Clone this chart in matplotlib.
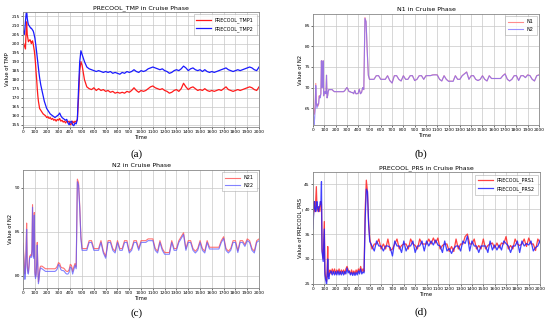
import matplotlib
matplotlib.use("Agg")
import matplotlib.pyplot as plt

# ---------------- time grid ----------------
time_early = list(range(0, 150, 5))
time_mid = list(range(150, 500, 10))
time_cruise = list(range(500, 2001, 20))
time = time_early + time_mid + time_cruise

# ---------------- (a) PRECOOL_TMP ----------------
tmp1_early = [200, 200, 199, 198, 197, 206, 212, 205, 203, 201,
              201.5, 202, 202, 201, 200, 201, 201.5, 200, 198, 196,
              193, 189, 184, 180, 175, 171, 168, 166, 164, 163.5]
tmp1_mid = [163, 162, 161, 160.5, 160, 159, 159.5, 158.5, 159, 158,
            158.5, 157.5, 158, 157, 158, 157.5, 158.5, 157, 157.5, 156.5,
            157, 156, 157, 156.5, 157, 155, 155.5, 157, 156, 157,
            156.5, 158, 170, 185, 190]
tmp1_cruise = [188, 180, 176, 175, 174.5, 175.5, 174, 175, 174, 174.5,
               173.5, 174, 173, 173.5, 172.5, 173, 172.5, 173, 172.5, 173.5,
               173, 174, 175.5, 174, 173, 174, 173.5, 174, 175, 176,
               176.5, 175.5, 175, 174.5, 175, 174, 173.5, 172.5, 173, 174,
               174.5, 173.5, 175, 178, 176, 174.5, 175.5, 176, 175, 174,
               174.5, 174, 175, 174, 173.5, 174, 173.5, 174, 174.5, 174,
               175, 176, 174.5, 174, 173.5, 174, 174.5, 174, 174.5, 175,
               175.5, 176, 175.5, 174.5, 174, 176]
tmp2_early = [207, 206, 205, 208, 212, 216, 218.5, 214, 212, 210.5,
              210, 209.5, 209, 208.5, 208.5, 208, 207.5, 207, 206, 204.5,
              203, 200.5, 198, 195, 192, 189, 186, 183.5, 181, 179]
tmp2_mid = [177, 174, 171, 168, 166, 164, 163, 162, 161, 160.5,
            160, 159.5, 159, 159.5, 160, 160.5, 161.5, 160, 159, 158.5,
            158, 157.5, 158, 156, 155, 156.5, 157, 155, 154.5, 156,
            155.5, 158, 175, 190, 196]
tmp2_cruise = [194, 190, 187, 186, 185.5, 185, 184.5, 185, 184.5, 184,
               184.5, 184, 184.5, 183.5, 184, 183.5, 183, 184, 183.5, 184.5,
               184, 184.5, 185.5, 184.5, 184, 185, 184.5, 185, 186, 186.5,
               187, 186.5, 186, 185.5, 186, 185, 184.5, 183.5, 184, 185,
               185.5, 185, 186, 187.5, 186.5, 185, 186, 186.5, 185.5, 185,
               185.5, 184.5, 185.5, 184.5, 184, 184.5, 184, 184.5, 185, 185.5,
               186, 186.5, 185.5, 185, 184.5, 185, 185.5, 185, 185.5, 186,
               186.5, 187, 186.5, 185.5, 185, 187]

# ---------------- (b) N1 ----------------
n1_early = [67, 65, 63.5, 64, 66, 71, 66, 65.5, 66, 65.5,
            66, 68, 67.5, 68, 68.5, 76.5, 70, 70.5, 76.5, 68,
            68.5, 69, 69, 68.5, 73, 67.5, 68, 69, 69.5, 69.5]
n1_mid = [69.5, 69.5, 69.5, 69.2, 69, 69, 69, 69, 69, 69,
          69, 69, 69, 69.2, 69.6, 70, 69.6, 69, 69, 68.8,
          68.8, 68.5, 69.3, 68.5, 68.5, 68.6, 69.6, 68.5, 68.8, 70,
          69.5, 87, 86, 79, 73]
n1_cruise = [72, 72, 72, 72.9, 72.9, 72, 72, 72, 72.9, 71.7,
             71.1, 72.9, 72.9, 72, 71.6, 72.9, 72, 72, 72.9, 72.9,
             71.7, 72, 72.9, 72.9, 72, 72.9, 72.9, 72.9, 73.1, 73.1,
             73.1, 72, 71.6, 72.9, 72, 71.55, 71.55, 71.55, 72.9, 72,
             72, 72.9, 73.35, 73.8, 72, 72.9, 72.9, 72, 71.7, 72,
             72.9, 72, 71.6, 72.9, 72.2, 72.2, 72.2, 72.2, 72.2, 72.9,
             73.35, 72, 71.6, 72, 72.9, 72.9, 71.75, 72.9, 72.9, 72.45,
             73.1, 72.9, 72, 71.6, 72.9, 73.1]
n2b_early = [66, 63, 61, 62.5, 65, 70.5, 66.5, 65, 65.5, 66,
             66, 67.5, 68, 67.5, 68.5, 76.5, 70, 70.5, 76.5, 68,
             68.5, 69, 69, 68.5, 73, 67.5, 68, 69, 69.5, 69.5]
n2b_mid = [69.5, 69.5, 69.5, 69.2, 69, 69, 69, 69, 69, 69,
           69, 69, 69, 69.2, 69.6, 70, 69.6, 69, 69, 68.8,
           68.8, 68.5, 69.3, 68.5, 68.5, 68.6, 69.6, 68.5, 68.8, 70,
           69.5, 86.8, 86, 79, 73]
n2b_cruise = [72, 72, 72, 72.85, 72.9, 72, 72, 72, 72.85, 71.7,
              71.1, 72.85, 72.9, 72, 71.6, 72.85, 72, 72, 72.85, 72.9,
              71.7, 72, 72.85, 72.9, 72, 72.85, 72.9, 72.9, 73.05, 73.1,
              73.05, 72, 71.6, 72.85, 72, 71.5, 71.55, 71.5, 72.85, 72,
              72, 72.85, 73.3, 73.75, 72, 72.85, 72.9, 72, 71.7, 72,
              72.85, 72, 71.6, 72.85, 72.2, 72.2, 72.2, 72.2, 72.2, 72.85,
              73.3, 72, 71.6, 72, 72.85, 72.9, 71.7, 72.85, 72.9, 72.4,
              73.05, 72.9, 72, 71.6, 72.85, 73.05]

# ---------------- (c) N2 ----------------
n21_early = [83.7, 82.5, 81.3, 80.2, 80.8, 83, 86, 81.5, 80.6, 80.4,
             81.2, 82.2, 82.3, 82.4, 82.3, 83, 88.1, 82.4, 82.2, 87.2,
             80.5, 79.9, 80.2, 81.5, 83.8, 81, 79.3, 79.8, 80.6, 81]
n21_mid = [81.1, 81.1, 81, 80.9, 80.8, 80.8, 80.8, 80.8, 80.8, 80.8,
           80.8, 80.8, 80.8, 80.9, 81.1, 81.5, 81.4, 81, 80.9, 80.9,
           80.8, 80.6, 80.5, 80.5, 80.7, 81.3, 81.2, 80.5, 81, 81.4,
           81, 91, 90.6, 88, 84.5]
n21_cruise = [83.1, 83.1, 83.1, 84.0, 84.0, 83.1, 83.1, 83.1, 84.0, 82.8,
              82.2, 84.0, 84.0, 83.1, 82.8, 84.0, 83.1, 83.1, 84.0, 84.0,
              82.8, 83.1, 84.0, 84.0, 83.1, 84.0, 84.0, 84.0, 84.2, 84.2,
              84.2, 83.1, 82.8, 84.0, 83.1, 82.65, 82.65, 82.65, 84.0, 83.1,
              83.1, 84.0, 84.45, 84.9, 83.1, 84.0, 84.0, 83.1, 82.8, 83.1,
              84.0, 83.1, 82.8, 84.0, 83.25, 83.25, 83.25, 83.25, 83.25, 84.0,
              84.45, 83.1, 82.8, 83.1, 84.0, 84.0, 82.85, 84.0, 84.0, 83.55,
              84.2, 84.0, 83.1, 82.8, 84.0, 84.2]
n22_early = [83.4, 82, 80.8, 79.6, 80.4, 82.5, 85.3, 81, 80.3, 80.2,
             81, 82, 82.1, 82.2, 82.1, 82.8, 87.8, 82.2, 82, 86.9,
             80.2, 79.7, 80, 81.3, 83.5, 80.8, 79.1, 79.6, 80.4, 80.8]
n22_mid = [80.9, 80.8, 80.7, 80.6, 80.5, 80.5, 80.5, 80.5, 80.5, 80.5,
           80.5, 80.5, 80.5, 80.6, 80.8, 81.3, 81.1, 80.7, 80.6, 80.6,
           80.5, 80.3, 80.2, 80.2, 80.4, 81, 80.9, 80.2, 80.7, 81.2,
           80.8, 90.7, 90.3, 87.7, 84.2]
n22_cruise = [82.9, 82.9, 82.9, 83.8, 83.8, 82.9, 82.9, 82.9, 83.8, 82.6,
              82.0, 83.8, 83.8, 82.9, 82.6, 83.8, 82.9, 82.9, 83.8, 83.8,
              82.6, 82.9, 83.8, 83.8, 82.9, 83.8, 83.8, 83.8, 84.0, 84.0,
              84.0, 82.9, 82.6, 83.8, 82.9, 82.45, 82.45, 82.45, 83.8, 82.9,
              82.9, 83.8, 84.25, 84.7, 82.9, 83.8, 83.8, 82.9, 82.6, 82.9,
              83.8, 82.9, 82.6, 83.8, 83.05, 83.05, 83.05, 83.05, 83.05, 83.8,
              84.25, 82.9, 82.6, 82.9, 83.8, 83.8, 82.65, 83.8, 83.8, 83.35,
              84.0, 83.8, 82.9, 82.6, 83.8, 84.0]

# ---------------- (d) PRECOOL_PRS ----------------
prs1_early = [37, 39, 41.5, 40, 39.5, 42, 44.5, 40.5, 40, 39.5,
              40.5, 40, 39.5, 41, 41.5, 41, 32, 31, 30, 34,
              37.5, 28, 26.5, 26, 25.5, 27.5, 32.5, 27, 26.5, 27.5]
prs1_mid = [27.8, 27, 28, 27.2, 28, 27, 27.8, 27.2, 28, 27,
            27.8, 27.2, 27.8, 27, 28, 28.5, 27.8, 27.5, 27, 27.8,
            27, 27.6, 27, 27.8, 27.2, 28, 27.5, 28.5, 27.4, 28,
            27.5, 40, 45.8, 43.5, 37.5]
prs1_cruise = [34.0, 32.0, 33.0, 33.0, 34.0, 32.0, 33.0, 32.0, 34.0, 31.7,
               32.0, 33.0, 34.0, 32.0, 32.7, 33.0, 33.0, 32.0, 34.0, 33.0,
               32.7, 32.0, 34.0, 33.0, 33.0, 33.0, 34.0, 33.0, 34.2, 33.2,
               34.2, 32.0, 32.7, 33.0, 33.0, 31.5, 32.5, 31.5, 34.0, 32.0,
               33.0, 33.0, 34.5, 35.0, 33.0, 33.0, 34.0, 32.0, 32.7, 32.0,
               34.0, 32.0, 32.7, 33.0, 33.2, 32.2, 33.2, 32.2, 33.2, 33.0,
               34.5, 32.0, 32.7, 32.0, 34.0, 33.0, 32.7, 33.0, 34.0, 32.5,
               34.2, 33.0, 33.0, 31.7, 34.0, 33.2]
prs2_early = [36, 38.5, 41, 41.5, 40, 39.5, 40, 41.5, 40.5, 40,
              39.5, 40.5, 40.5, 41.5, 41, 45.5, 31.5, 30.5, 29.5, 33,
              36, 27, 26, 25.5, 24.8, 26.5, 30, 26.5, 26, 27]
prs2_mid = [27.2, 27.6, 26.8, 27.5, 26.8, 27.5, 26.8, 27.6, 26.8, 27.5,
            26.8, 27.5, 26.8, 27.5, 27, 28.2, 27.2, 27.6, 26.8, 27.3,
            26.7, 27.3, 26.7, 27.3, 26.8, 27.6, 27, 28, 27, 27.4,
            27.2, 38, 44, 43.5, 37]
prs2_cruise = [33.5, 32.6, 31.6, 33.6, 32.6, 32.6, 31.6, 32.6, 32.6, 32.3,
               30.6, 33.6, 32.6, 32.6, 31.3, 33.6, 31.6, 32.6, 32.6, 33.6,
               31.3, 32.6, 32.6, 33.6, 31.6, 33.6, 32.6, 33.6, 32.8, 33.8,
               32.8, 32.6, 31.3, 33.6, 31.6, 32.1, 31.1, 32.1, 32.6, 32.6,
               31.6, 33.6, 33.1, 34.6, 31.6, 33.6, 32.6, 32.6, 31.3, 32.6,
               32.6, 32.6, 31.3, 33.6, 31.8, 32.8, 31.8, 32.8, 31.8, 33.6,
               33.1, 32.6, 31.3, 32.6, 32.6, 33.6, 31.3, 33.6, 32.6, 33.1,
               32.8, 33.6, 31.6, 32.3, 32.6, 33.8]

x_ticks = list(range(0, 2001, 100))

panels = [
    dict(rect=[0.042, 0.607, 0.429, 0.356], title="PRECOOL_TMP in Cruise Phase",
         ylabel="Value of TMP", ylim=(153.8, 217.5), yticks=list(range(155, 216, 5)),
         series=[("PRECOOL_TMP1", tmp1_early + tmp1_mid + tmp1_cruise, "#ff1a1a", 1.0),
                 ("PRECOOL_TMP2", tmp2_early + tmp2_mid + tmp2_cruise, "#1a1aff", 1.0)],
         caption="(a)", cap_xy=(0.249, 0.523), lw=0.9),
    dict(rect=[0.569, 0.613, 0.411, 0.344], title="N1 in Cruise Phase",
         ylabel="Value of N2", ylim=(60.9, 87.9), yticks=[65, 70, 75, 80, 85],
         series=[("N1", n1_early + n1_mid + n1_cruise, "#ff7070", 0.8),
                 ("N2", n2b_early + n2b_mid + n2b_cruise, "#7a6cff", 0.75)],
         caption="(b)", cap_xy=(0.765, 0.523), lw=0.8),
    dict(rect=[0.042, 0.108, 0.429, 0.366], title="N2 in Cruise Phase",
         ylabel="Value of N2", ylim=(78.6, 92.05), yticks=[80, 85, 90],
         series=[("N21", n21_early + n21_mid + n21_cruise, "#ff5050", 0.8),
                 ("N22", n22_early + n22_mid + n22_cruise, "#5a5aff", 0.75)],
         caption="(c)", cap_xy=(0.249, 0.031), lw=0.8),
    dict(rect=[0.569, 0.121, 0.413, 0.346], title="PRECOOL_PRS in Cruise Phase",
         ylabel="Value of PRECOOL_PRS", ylim=(25, 47.4), yticks=[25, 30, 35, 40, 45],
         series=[("PRECOOL_PRS1", prs1_early + prs1_mid + prs1_cruise, "#ff2020", 0.85),
                 ("PRECOOL_PRS2", prs2_early + prs2_mid + prs2_cruise, "#2020ff", 0.85)],
         caption="(d)", cap_xy=(0.765, 0.034), lw=0.9),
]

fig = plt.figure(figsize=(5.5, 3.23), dpi=100)
small = 3.2
for p in panels:
    ax = fig.add_axes(p["rect"])
    for name, vals, color, alpha in p["series"]:
        ax.plot(time, vals, color=color, alpha=alpha, lw=p["lw"], label=name)
    ax.set_xlim(0, 2000)
    ax.set_ylim(*p["ylim"])
    ax.set_xticks(x_ticks)
    ax.set_yticks(p["yticks"])
    ax.tick_params(labelsize=small, length=1.2, width=0.4, pad=1)
    ax.grid(True, color="#c8c8c8", lw=0.5)
    for s in ax.spines.values():
        s.set_color("#888888")
        s.set_linewidth(0.6)
    ax.set_title(p["title"], fontsize=4.5, pad=2)
    ax.set_xlabel("Time", fontsize=3.8, labelpad=0.5)
    ax.set_ylabel(p["ylabel"], fontsize=3.8, labelpad=1)
    leg = ax.legend(loc="upper right", fontsize=3.5, handlelength=3.0,
                    borderpad=0.6, labelspacing=0.6, frameon=True, fancybox=False)
    leg.get_frame().set_linewidth(0.4)
    leg.get_frame().set_edgecolor("#999999")
    fig.text(p["cap_xy"][0], p["cap_xy"][1], p["caption"], ha="center", va="center",
             fontsize=8, family="Liberation Serif")

fig.savefig("out.png", dpi=100)
